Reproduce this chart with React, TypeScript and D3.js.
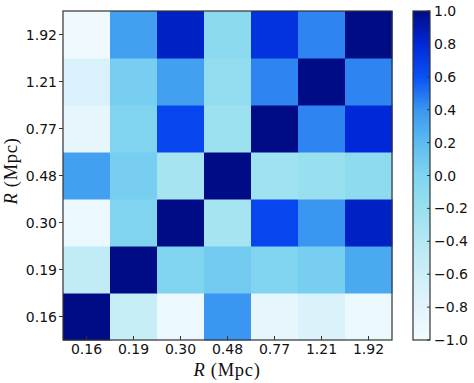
import React from "react";
import * as d3 from "d3";

const labels = ["0.16", "0.19", "0.30", "0.48", "0.77", "1.21", "1.92"];
// rows listed bottom (0.16) to top (1.92); columns 0.16 .. 1.92
const row016 = [1.0, -0.55, -0.9, 0.4, -0.85, -0.72, -0.9];
const row019 = [-0.5, 1.0, 0.0, 0.08, 0.0, 0.05, 0.3];
const row030 = [-0.9, 0.0, 1.0, -0.3, 0.65, 0.4, 0.85];
const row048 = [0.35, 0.05, -0.3, 1.0, -0.25, -0.2, -0.12];
const row077 = [-0.85, 0.0, 0.65, -0.22, 1.0, 0.45, 0.8];
const row121 = [-0.7, 0.05, 0.35, -0.15, 0.45, 1.0, 0.45];
const row192 = [-0.95, 0.35, 0.85, -0.1, 0.75, 0.45, 1.0];
const rows = [row016, row019, row030, row048, row077, row121, row192];

const cbTicks = [-1.0, -0.8, -0.6, -0.4, -0.2, 0.0, 0.2, 0.4, 0.6, 0.8, 1.0];
const cmapStops = [-1, -0.8, -0.6, -0.4, -0.2, 0, 0.2, 0.4, 0.6, 0.8, 1];
const cmapColors = ["#f4fbff", "#e2f4fb", "#cdeef8", "#b4e8f4", "#98e0f0", "#80d4f0", "#5cbcf0", "#3a96f0", "#0a50f5", "#0028d8", "#000c85"];

export default function App() {
  const left = 63, top = 11, size = 329;
  const x = d3.scaleBand<string>().domain(labels).range([left, left + size]);
  const y = d3.scaleBand<string>().domain(labels).range([top + size, top]);
  const color = d3.scaleLinear<string>().domain(cmapStops).range(cmapColors).interpolate(d3.interpolateRgb);
  const cbX = 413, cbW = 17;
  const cbY = d3.scaleLinear().domain([-1, 1]).range([top + size, top]);
  const font = "DejaVu Sans, sans-serif";
  const cells: JSX.Element[] = [];
  rows.forEach((r, i) =>
    r.forEach((v, j) => {
      cells.push(
        <rect key={`${i}-${j}`} x={x(labels[j])!} y={y(labels[i])!} width={x.bandwidth() + 0.5} height={y.bandwidth() + 0.5} fill={color(v)} />
      );
    })
  );
  const gradStops = d3.range(0, 21).map((k) => -1 + k * 0.1);
  return (
    <svg width={474} height={383} style={{ position: "absolute", left: 0, top: 0, background: "#fff" }}>
      <defs>
        <linearGradient id="cb" x1="0" y1="1" x2="0" y2="0">
          {gradStops.map((v, k) => (
            <stop key={k} offset={`${((v + 1) / 2) * 100}%`} stopColor={color(v)} />
          ))}
        </linearGradient>
      </defs>
      {cells}
      <rect x={left} y={top} width={size} height={size} fill="none" stroke="#333" strokeWidth={1.2} />
      {labels.map((l) => (
        <g key={"x" + l}>
          <line x1={x(l)! + x.bandwidth() / 2} x2={x(l)! + x.bandwidth() / 2} y1={top + size} y2={top + size - 4} stroke="#333" />
          <text x={x(l)! + x.bandwidth() / 2} y={354} textAnchor="middle" fontFamily={font} fontSize={14} fill="#111">{l}</text>
        </g>
      ))}
      {labels.map((l) => (
        <g key={"y" + l}>
          <line x1={left} x2={left - 4} y1={y(l)! + y.bandwidth() / 2} y2={y(l)! + y.bandwidth() / 2} stroke="#333" />
          <text x={57} y={y(l)! + y.bandwidth() / 2} dy="0.36em" textAnchor="end" fontFamily={font} fontSize={14} fill="#111">{l}</text>
        </g>
      ))}
      <text x={227} y={376} textAnchor="middle" fontFamily="Liberation Serif, serif" fontSize={18.5} letterSpacing={0.7} fill="#111">
        <tspan fontStyle="italic">R</tspan> (Mpc)
      </text>
      <text transform={`translate(17,171) rotate(-90)`} textAnchor="middle" fontFamily="Liberation Serif, serif" fontSize={18.5} letterSpacing={0.7} fill="#111">
        <tspan fontStyle="italic">R</tspan> (Mpc)
      </text>
      <rect x={cbX} y={top} width={cbW} height={size} fill="url(#cb)" stroke="#333" strokeWidth={1.2} />
      {cbTicks.map((t) => (
        <g key={"c" + t}>
          <line x1={cbX + cbW} x2={cbX + cbW - 3} y1={cbY(t)} y2={cbY(t)} stroke="#333" />
          <text x={434} y={cbY(t)} dy="0.36em" fontFamily={font} fontSize={14} fill="#111">{t < 0 ? "\u2212" + Math.abs(t).toFixed(1) : t.toFixed(1)}</text>
        </g>
      ))}
    </svg>
  );
}
